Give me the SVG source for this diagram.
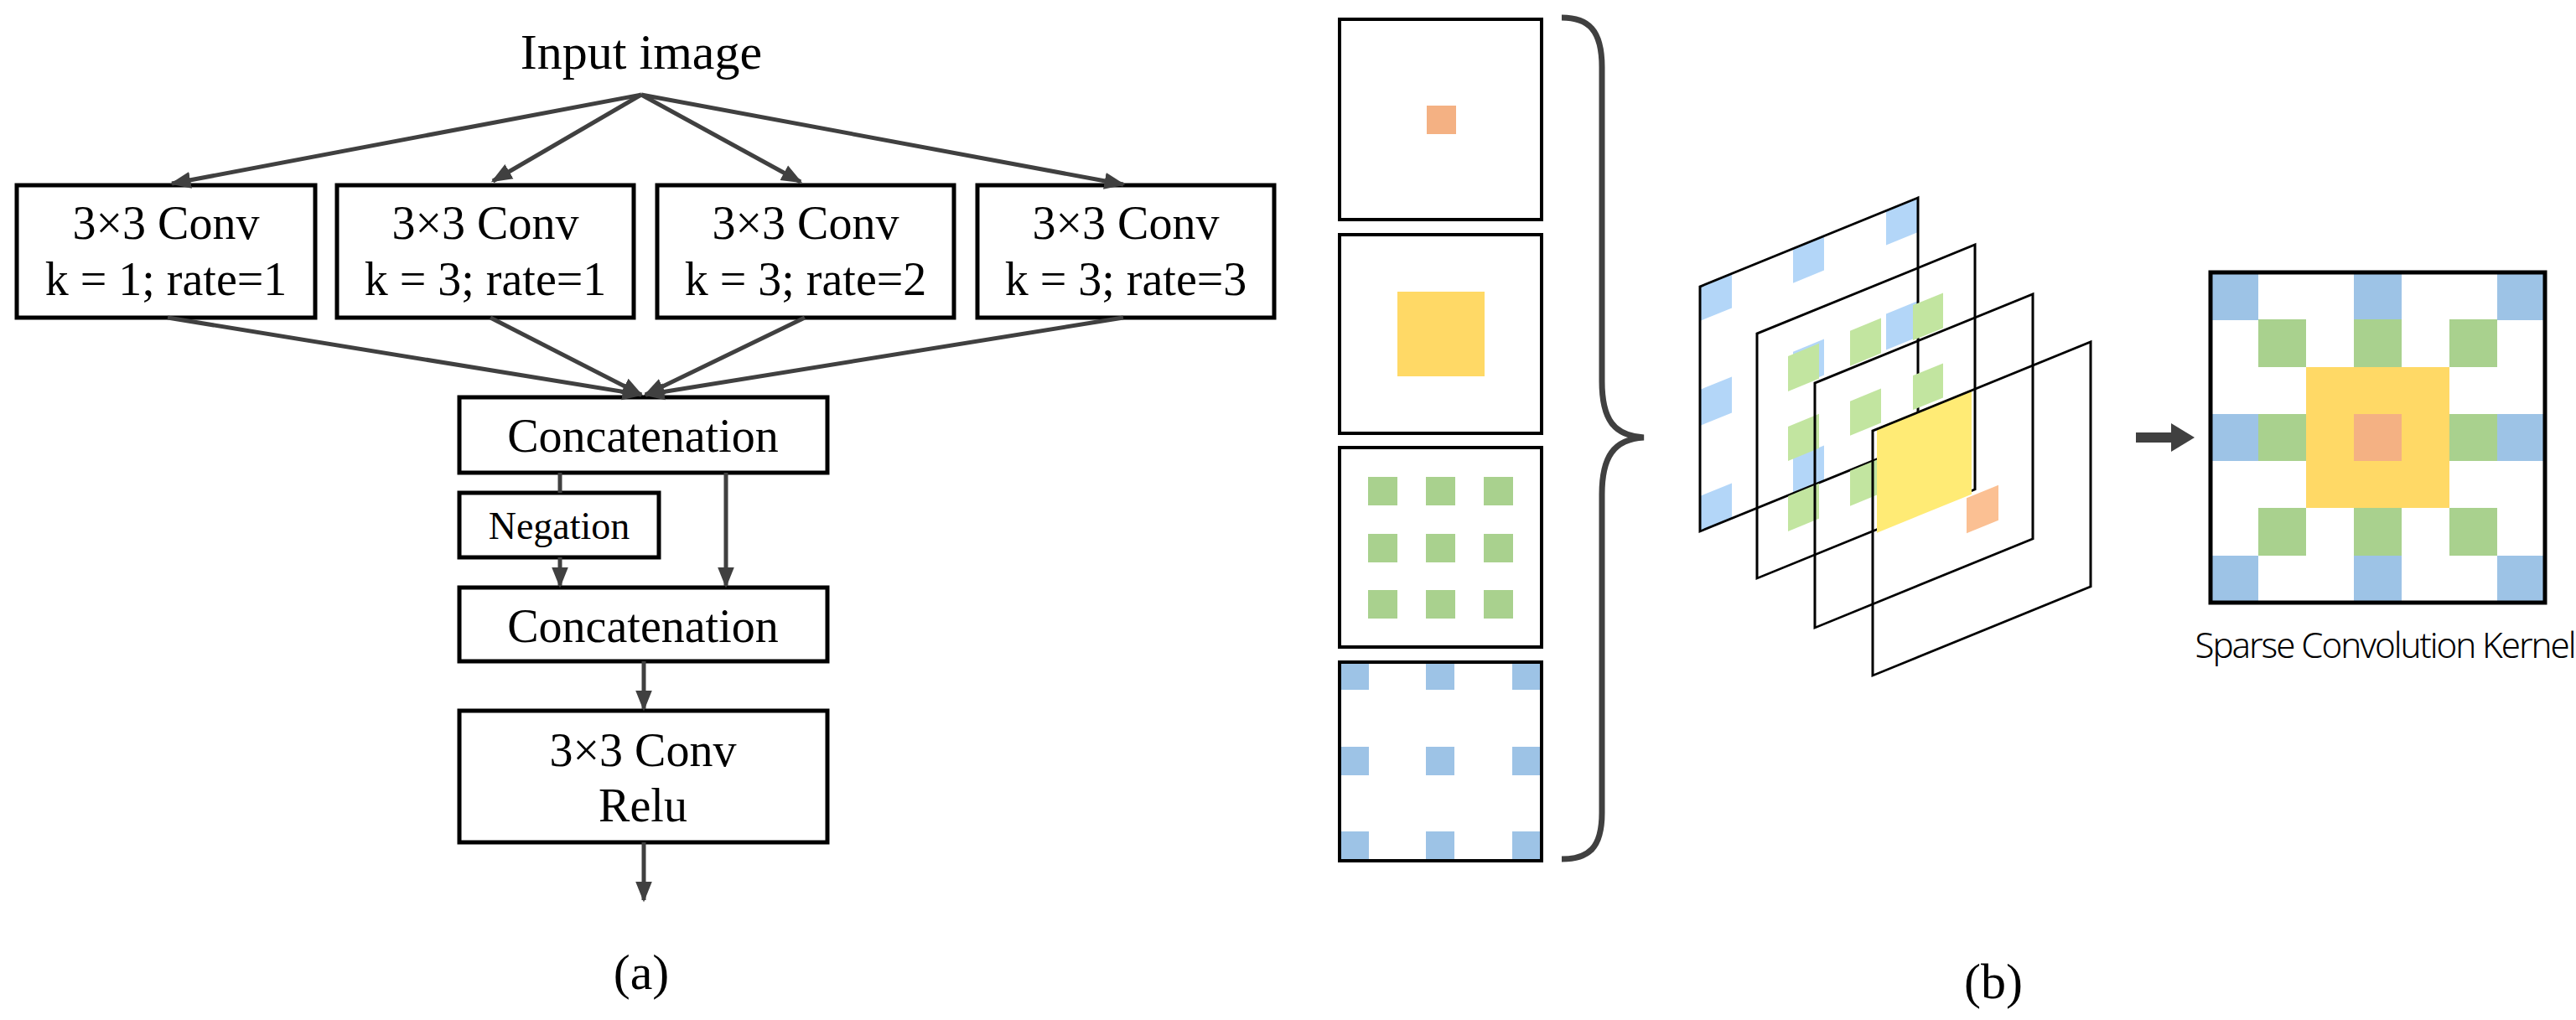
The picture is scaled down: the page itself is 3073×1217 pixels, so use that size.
<svg xmlns="http://www.w3.org/2000/svg" width="3073" height="1217" viewBox="0 0 3073 1217">
<style>
.t{font-family:"Liberation Serif",serif;fill:#000;text-anchor:middle}
.box{fill:#fff;stroke:#000;stroke-width:5}
.c{stroke:#404040;stroke-width:5;fill:none}
.pl{fill:none;stroke:#000;stroke-width:3}
.sq{fill:#fff;stroke:#000;stroke-width:4}
.B{fill:#9DC3E6}.G{fill:#A9D18E}.Y{fill:#FFD966}.O{fill:#F4B183}
.lb{fill:#B3D6F8}.lg{fill:#C2E5A0}.ly{fill:#FFEB75}.lo{fill:#FBC093}
</style>
<defs>
<marker id="ah" viewBox="0 0 10 10" refX="9" refY="5" markerWidth="5" markerHeight="5" markerUnits="strokeWidth" orient="auto"><path d="M0,1 L10,5 L0,9 Z" fill="#404040"/></marker>
</defs>
<rect width="3073" height="1217" fill="#fff"/>
<g id="input"><text class="t" x="765" y="82" font-size="60">Input image</text></g>
<g id="conv1"><rect class="box" x="20" y="221" width="356" height="158"/><text class="t" x="198" y="285" font-size="56">3×3 Conv</text><text class="t" x="198" y="352" font-size="56">k = 1; rate=1</text></g>
<g id="conv2"><rect class="box" x="402" y="221" width="354" height="158"/><text class="t" x="579" y="285" font-size="56">3×3 Conv</text><text class="t" x="579" y="352" font-size="56">k = 3; rate=1</text></g>
<g id="conv3"><rect class="box" x="784" y="221" width="354" height="158"/><text class="t" x="961" y="285" font-size="56">3×3 Conv</text><text class="t" x="961" y="352" font-size="56">k = 3; rate=2</text></g>
<g id="conv4"><rect class="box" x="1166" y="221" width="354" height="158"/><text class="t" x="1343" y="285" font-size="56">3×3 Conv</text><text class="t" x="1343" y="352" font-size="56">k = 3; rate=3</text></g>
<g id="concat1"><rect class="box" x="548" y="474" width="439" height="90"/><text class="t" x="767" y="539" font-size="56">Concatenation</text></g>
<g id="negation"><rect class="box" x="548" y="588" width="238" height="77"/><text class="t" x="667" y="643" font-size="46">Negation</text></g>
<g id="concat2"><rect class="box" x="548" y="701" width="439" height="88"/><text class="t" x="767" y="766" font-size="56">Concatenation</text></g>
<g id="convrelu"><rect class="box" x="548" y="848" width="439" height="157"/><text class="t" x="767" y="914" font-size="56">3×3 Conv</text><text class="t" x="767" y="980" font-size="56">Relu</text></g>
<g id="connectors">
<line class="c" x1="765" y1="113" x2="205" y2="219" marker-end="url(#ah)"/>
<line class="c" x1="765" y1="113" x2="588" y2="216" marker-end="url(#ah)"/>
<line class="c" x1="765" y1="113" x2="955" y2="217" marker-end="url(#ah)"/>
<line class="c" x1="765" y1="113" x2="1340" y2="220" marker-end="url(#ah)"/>
<line class="c" x1="200" y1="379" x2="765" y2="471" marker-end="url(#ah)"/>
<line class="c" x1="585" y1="379" x2="765" y2="471" marker-end="url(#ah)"/>
<line class="c" x1="960" y1="379" x2="770" y2="471" marker-end="url(#ah)"/>
<line class="c" x1="1340" y1="379" x2="770" y2="471" marker-end="url(#ah)"/>
<line class="c" x1="668" y1="564" x2="668" y2="588"/>
<line class="c" x1="668" y1="665" x2="668" y2="699" marker-end="url(#ah)"/>
<line class="c" x1="866" y1="564" x2="866" y2="699" marker-end="url(#ah)"/>
<line class="c" x1="768" y1="789" x2="768" y2="846" marker-end="url(#ah)"/>
<line class="c" x1="768" y1="1005" x2="768" y2="1074" marker-end="url(#ah)"/>
<line stroke="#404040" stroke-width="12" x1="2548" y1="522" x2="2596" y2="522"/>
<path d="M2590,505 L2618,522 L2590,539 Z" fill="#404040"/>
<path d="M1863,21 C1895,21 1911,36 1911,80 L1911,455 C1911,500 1925,520 1961,522 C1925,524 1911,545 1911,590 L1911,970 C1911,1012 1895,1025 1863,1025" fill="none" stroke="#404040" stroke-width="7"/>
</g>
<text class="t" x="765" y="1180" font-size="60">(a)</text>
<g id="k1"><rect class="sq" x="1598" y="23" width="241" height="239"/><rect class="O" x="1702" y="126" width="35" height="34"/></g>
<g id="k2"><rect class="sq" x="1598" y="280" width="241" height="237"/><rect class="Y" x="1667" y="348" width="104" height="101"/></g>
<g id="k3"><rect class="sq" x="1598" y="534" width="241" height="238"/>
<g class="G"><rect x="1632" y="569" width="35" height="34"/><rect x="1701" y="569" width="35" height="34"/><rect x="1770" y="569" width="35" height="34"/><rect x="1632" y="637" width="35" height="34"/><rect x="1701" y="637" width="35" height="34"/><rect x="1770" y="637" width="35" height="34"/><rect x="1632" y="704" width="35" height="34"/><rect x="1701" y="704" width="35" height="34"/><rect x="1770" y="704" width="35" height="34"/></g></g>
<g id="k4"><rect class="sq" x="1598" y="790" width="241" height="237"/>
<g class="B"><rect x="1600" y="792" width="33" height="31"/><rect x="1701" y="792" width="34" height="31"/><rect x="1804" y="792" width="33" height="31"/><rect x="1600" y="891" width="33" height="34"/><rect x="1701" y="891" width="34" height="34"/><rect x="1804" y="891" width="33" height="34"/><rect x="1600" y="992" width="33" height="33"/><rect x="1701" y="992" width="34" height="33"/><rect x="1804" y="992" width="33" height="33"/></g></g>
<g id="stack">
<g transform="translate(2028,342) skewY(-22.2)"><g class="lb"><rect x="0" y="0" width="38" height="41"/><rect x="111" y="0" width="37" height="41"/><rect x="222" y="0" width="38" height="41"/><rect x="0" y="123" width="38" height="43"/><rect x="111" y="123" width="37" height="43"/><rect x="222" y="123" width="38" height="43"/><rect x="0" y="250" width="38" height="42"/><rect x="111" y="250" width="37" height="42"/></g><rect class="pl" x="0" y="0" width="260" height="292"/></g>
<g transform="translate(2096,398) skewY(-22.2)"><g class="lg"><rect x="37" y="42" width="37" height="42"/><rect x="111" y="42" width="37" height="42"/><rect x="186" y="42" width="36" height="42"/><rect x="37" y="126" width="37" height="41"/><rect x="111" y="126" width="37" height="41"/><rect x="186" y="126" width="36" height="41"/><rect x="37" y="209" width="37" height="42"/><rect x="111" y="209" width="37" height="42"/></g><rect class="pl" x="0" y="0" width="260" height="292"/></g>
<g transform="translate(2165,457) skewY(-22.2)"><rect class="pl" x="0" y="0" width="260" height="292"/><rect class="ly" x="74" y="84" width="113" height="125"/></g>
<g transform="translate(2234,514) skewY(-22.2)"><rect class="lo" x="112" y="126" width="38" height="42"/><rect class="pl" x="0" y="0" width="260" height="292"/></g>
</g>
<g id="kernel">
<g class="B"><rect x="2637" y="325" width="57" height="57"/><rect x="2808" y="325" width="57" height="57"/><rect x="2979" y="325" width="57" height="57"/><rect x="2637" y="494" width="57" height="56"/><rect x="2979" y="494" width="57" height="56"/><rect x="2637" y="663" width="57" height="56"/><rect x="2808" y="663" width="57" height="56"/><rect x="2979" y="663" width="57" height="56"/></g>
<g class="G"><rect x="2694" y="381" width="57" height="57"/><rect x="2808" y="381" width="57" height="57"/><rect x="2922" y="381" width="57" height="57"/><rect x="2694" y="494" width="57" height="56"/><rect x="2922" y="494" width="57" height="56"/><rect x="2694" y="606" width="57" height="57"/><rect x="2808" y="606" width="57" height="57"/><rect x="2922" y="606" width="57" height="57"/></g>
<rect class="Y" x="2751" y="438" width="171" height="168"/>
<rect class="O" x="2808" y="494" width="57" height="56"/>
<rect fill="none" stroke="#000" stroke-width="5" x="2637" y="325" width="399" height="394"/>
<text x="2846" y="785" font-family="Noto Sans, sans-serif" font-weight="300" font-size="42" text-anchor="middle" textLength="455">Sparse Convolution Kernel</text>
</g>
<text class="t" x="2378" y="1191" font-size="60">(b)</text>
</svg>
